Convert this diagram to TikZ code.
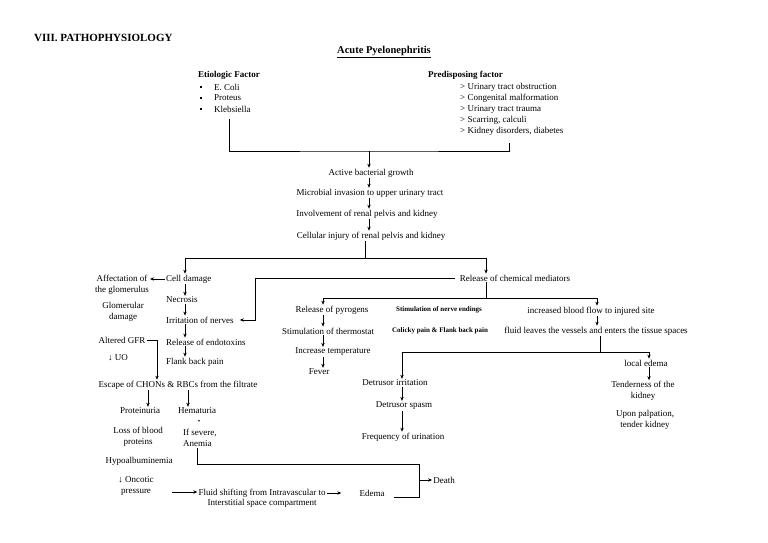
\documentclass[tikz,border=0pt]{standalone}
\usepackage{fontspec}
\setmainfont{Liberation Serif}[BoldFont={Liberation Serif Bold}]
\usetikzlibrary{arrows.meta}
\begin{document}
\begin{tikzpicture}[x=1pt,y=-1pt,
  txt/.style={font=\fontsize{9}{11}\selectfont, inner sep=1pt, align=center},
  txtl/.style={txt, anchor=west, align=left},
  txtb/.style={font=\fontsize{9}{11}\selectfont\bfseries, inner sep=1pt},
  sm/.style={font=\fontsize{7}{8}\selectfont\bfseries, inner sep=1pt},
  bul/.style={fill=black, rectangle, minimum size=2.5pt, inner sep=0pt},
  ln/.style={line width=0.6pt},
  arr/.style={ln, -{Stealth[length=4pt,width=3.4pt]}}]
\fill[white] (0,0) rectangle (768,543);
\useasboundingbox (0,0) rectangle (768,543);

% header
\node[txtl, font=\fontsize{11}{13}\selectfont\bfseries] (title) at (33,38) {VIII. PATHOPHYSIOLOGY};
\node[txt, font=\fontsize{10.5}{12}\selectfont\bfseries] (acute) at (384,52) {\underline{Acute Pyelonephritis}};

% etiologic factor
\node[txtb, anchor=west] (etio) at (197,75) {Etiologic Factor};
\node[bul] (bl1) at (201,87) {};
\node[bul] (bl2) at (201,98) {};
\node[bul] (bl3) at (201,109) {};
\node[txtl] (ecoli) at (213,87) {E. Coli};
\node[txtl] (proteus) at (213,98) {Proteus};
\node[txtl] (kleb) at (213,109) {Klebsiella};

% predisposing factor
\node[txtb, anchor=west] (pred) at (427,75) {Predisposing factor};
\node[txtl] (p1) at (459,87) {> Urinary tract obstruction};
\node[txtl] (p2) at (459,98) {> Congenital malformation};
\node[txtl] (p3) at (459,109) {> Urinary tract trauma};
\node[txtl] (p4) at (459,120) {> Scarring, calculi};
\node[txtl] (p5) at (459,131) {> Kidney disorders, diabetes};

% main chain
\node[txt] (active) at (371,173) {Active bacterial growth};
\node[txt] (micro) at (370,193) {Microbial invasion to upper urinary tract};
\node[txt] (invol) at (367,214) {Involvement of renal pelvis and kidney};
\node[txt] (cellinj) at (371,236) {Cellular injury of renal pelvis and kidney};

\coordinate (j1) at (369,151);
\coordinate (cx) at (369,0);
\draw[ln, shorten <=6pt, shorten >=7pt] ([xshift=-3pt]kleb.south) |- (j1) -| ([xshift=-2.5pt]p5.south);
\draw[arr] (j1) -- (cx |- active.north);
\draw[arr] (cx |- active.south) -- (cx |- micro.north);
\draw[arr] (cx |- micro.south) -- (cx |- invol.north);
\draw[arr] (cx |- invol.south) -- (cx |- cellinj.north);

% left column
\node[txtl] (celldmg) at (165,279) {Cell damage};
\node[txtl] (necro) at (165,300) {Necrosis};
\node[txtl] (irrit) at (165,320) {Irritation of nerves};
\node[txtl] (endo) at (165,342) {Release of endotoxins};
\node[txtl] (flank) at (165,362) {Flank back pain};
\coordinate (lx) at (185,0);

\node[txt] (affect) at (122,285) {Affectation of\\the glomerulus};
\node[txt] (glom) at (123,312) {Glomerular\\damage};
\node[txt] (gfr) at (122,340) {Altered GFR};
\node[txt] (uo) at (118,358) {↓ UO};
\node[txt] (escape) at (178,385) {Escape of CHONs \& RBCs from the filtrate};
\node[txt] (protu) at (140,411) {Proteinuria};
\node[txt] (hemat) at (197,411) {Hematuria};
\node[txt, font=\fontsize{7}{7}\selectfont] (hdot) at (199,422) {•};
\node[txtl] (sev) at (182,438) {If severe,\\Anemia};
\node[txt] (loss) at (138,437) {Loss of blood\\proteins};
\node[txt] (hypo) at (139,461) {Hypoalbuminemia};
\node[txt] (onco1) at (136,480) {↓ Oncotic};
\node[txt] (onco2) at (136,492) {pressure};
\node[txt] (fluid1) at (262,493) {Fluid shifting from Intravascular to};
\node[txt] (fluid2) at (262,503) {Interstitial space compartment};
\node[txt] (edema) at (372,493) {Edema};
\node[txt] (death) at (444,480) {Death};

% chemical mediators branch
\node[txt] (chem) at (515,278) {Release of chemical mediators};
\node[txt] (pyro) at (332,310) {Release of pyrogens};
\node[txt] (thermo) at (328,331) {Stimulation of thermostat};
\node[txt] (temp) at (333,352) {Increase temperature};
\node[txt] (fever) at (319,372) {Fever};
\node[sm] (nerve) at (439,310) {Stimulation of nerve endings};
\node[sm] (colic) at (440,331) {Colicky pain \& Flank back pain};
\node[txt] (blood) at (591,311) {increased blood flow to injured site};
\node[txt] (fluidlv) at (596,331) {fluid leaves the vessels and enters the tissue spaces};
\node[txt] (detirr) at (395,383) {Detrusor irritation};
\node[txt] (detsp) at (404,406) {Detrusor spasm};
\node[txt] (freq) at (403,437) {Frequency of urination};
\node[txt] (edloc) at (646,363) {local edema};
\node[txt] (tender) at (643,391) {Tenderness of the\\kidney};
\node[txt] (upon) at (645,420) {Upon palpation,\\tender kidney};

% split after cellular injury
\coordinate (j2) at (365,258);
\coordinate (chx) at (486,0);
\draw[ln] (j2 |- cellinj.south) -- (j2);
\draw[arr] (j2) -| (lx |- celldmg.north);
\draw[arr] (j2) -| (chx |- chem.north);

% left column arrows
\draw[arr] (celldmg.west) -- (celldmg.west -| affect.east);
\draw[arr] (lx |- celldmg.south) -- (lx |- necro.north);
\draw[arr] (lx |- necro.south) -- (lx |- irrit.north);
\draw[arr] (lx |- irrit.south) -- (lx |- endo.north);
\draw[arr] (lx |- endo.south) -- (lx |- flank.north);

\coordinate (gx) at (157,0);
\draw[arr] (gfr.east) -| (gx |- escape.north);
\coordinate (ex1) at (148,0);
\coordinate (ex2) at (188,0);
\draw[arr] (ex1 |- escape.south) -- (ex1 |- protu.north);
\draw[arr] (ex2 |- escape.south) -- (ex2 |- hemat.north);

\draw[arr, shorten <=20pt] (onco2.east) -- (onco2.east -| fluid1.west);
\draw[arr, shorten >=17pt] (fluid1.east) -- (fluid1.east -| edema.west);

\coordinate (ax) at (197,0);
\coordinate (k1) at (419,464);
\coordinate (k3) at (419,480);
\draw[ln] (ax |- sev.south) |- (k1) |- ([yshift=-4pt,xshift=8pt]edema.east);
\draw[arr] (k3) -- (death.west);

% chemical mediators connectors
\coordinate (m1) at (255,320);
\draw[arr, shorten <=4pt, shorten >=5pt] (chem.west) -| (m1) -- (irrit.east);
\coordinate (m2) at (486,298);
\coordinate (m3) at (323,298);
\coordinate (m4) at (597,298);
\draw[ln] (chx |- chem.south) -- (m2);
\draw[arr] (m2) -| (m3 |- pyro.north);
\draw[arr] (m2) -| (m4 |- blood.north);
\draw[arr] (m3 |- pyro.south) -- (m3 |- thermo.north);
\draw[arr] (m3 |- thermo.south) -- (m3 |- temp.north);
\draw[arr] (m3 |- temp.south) -- (m3 |- fever.north);
\draw[arr] (m4 |- blood.south) -- (m4 |- fluidlv.north);

\coordinate (n1) at (600,352);
\coordinate (n2) at (402,352);
\coordinate (n3) at (649,352);
\draw[ln] (n1 |- fluidlv.south) -- (n1);
\draw[arr] (n1) -| (n2 |- detirr.north);
\draw[arr] (n1) -| (n3 |- edloc.north);
\draw[arr] (n2 |- detirr.south) -- (n2 |- detsp.north);
\draw[arr] (n2 |- detsp.south) -- (n2 |- freq.north);
\draw[arr] (n3 |- edloc.south) -- (n3 |- tender.north);
\end{tikzpicture}
\end{document}
